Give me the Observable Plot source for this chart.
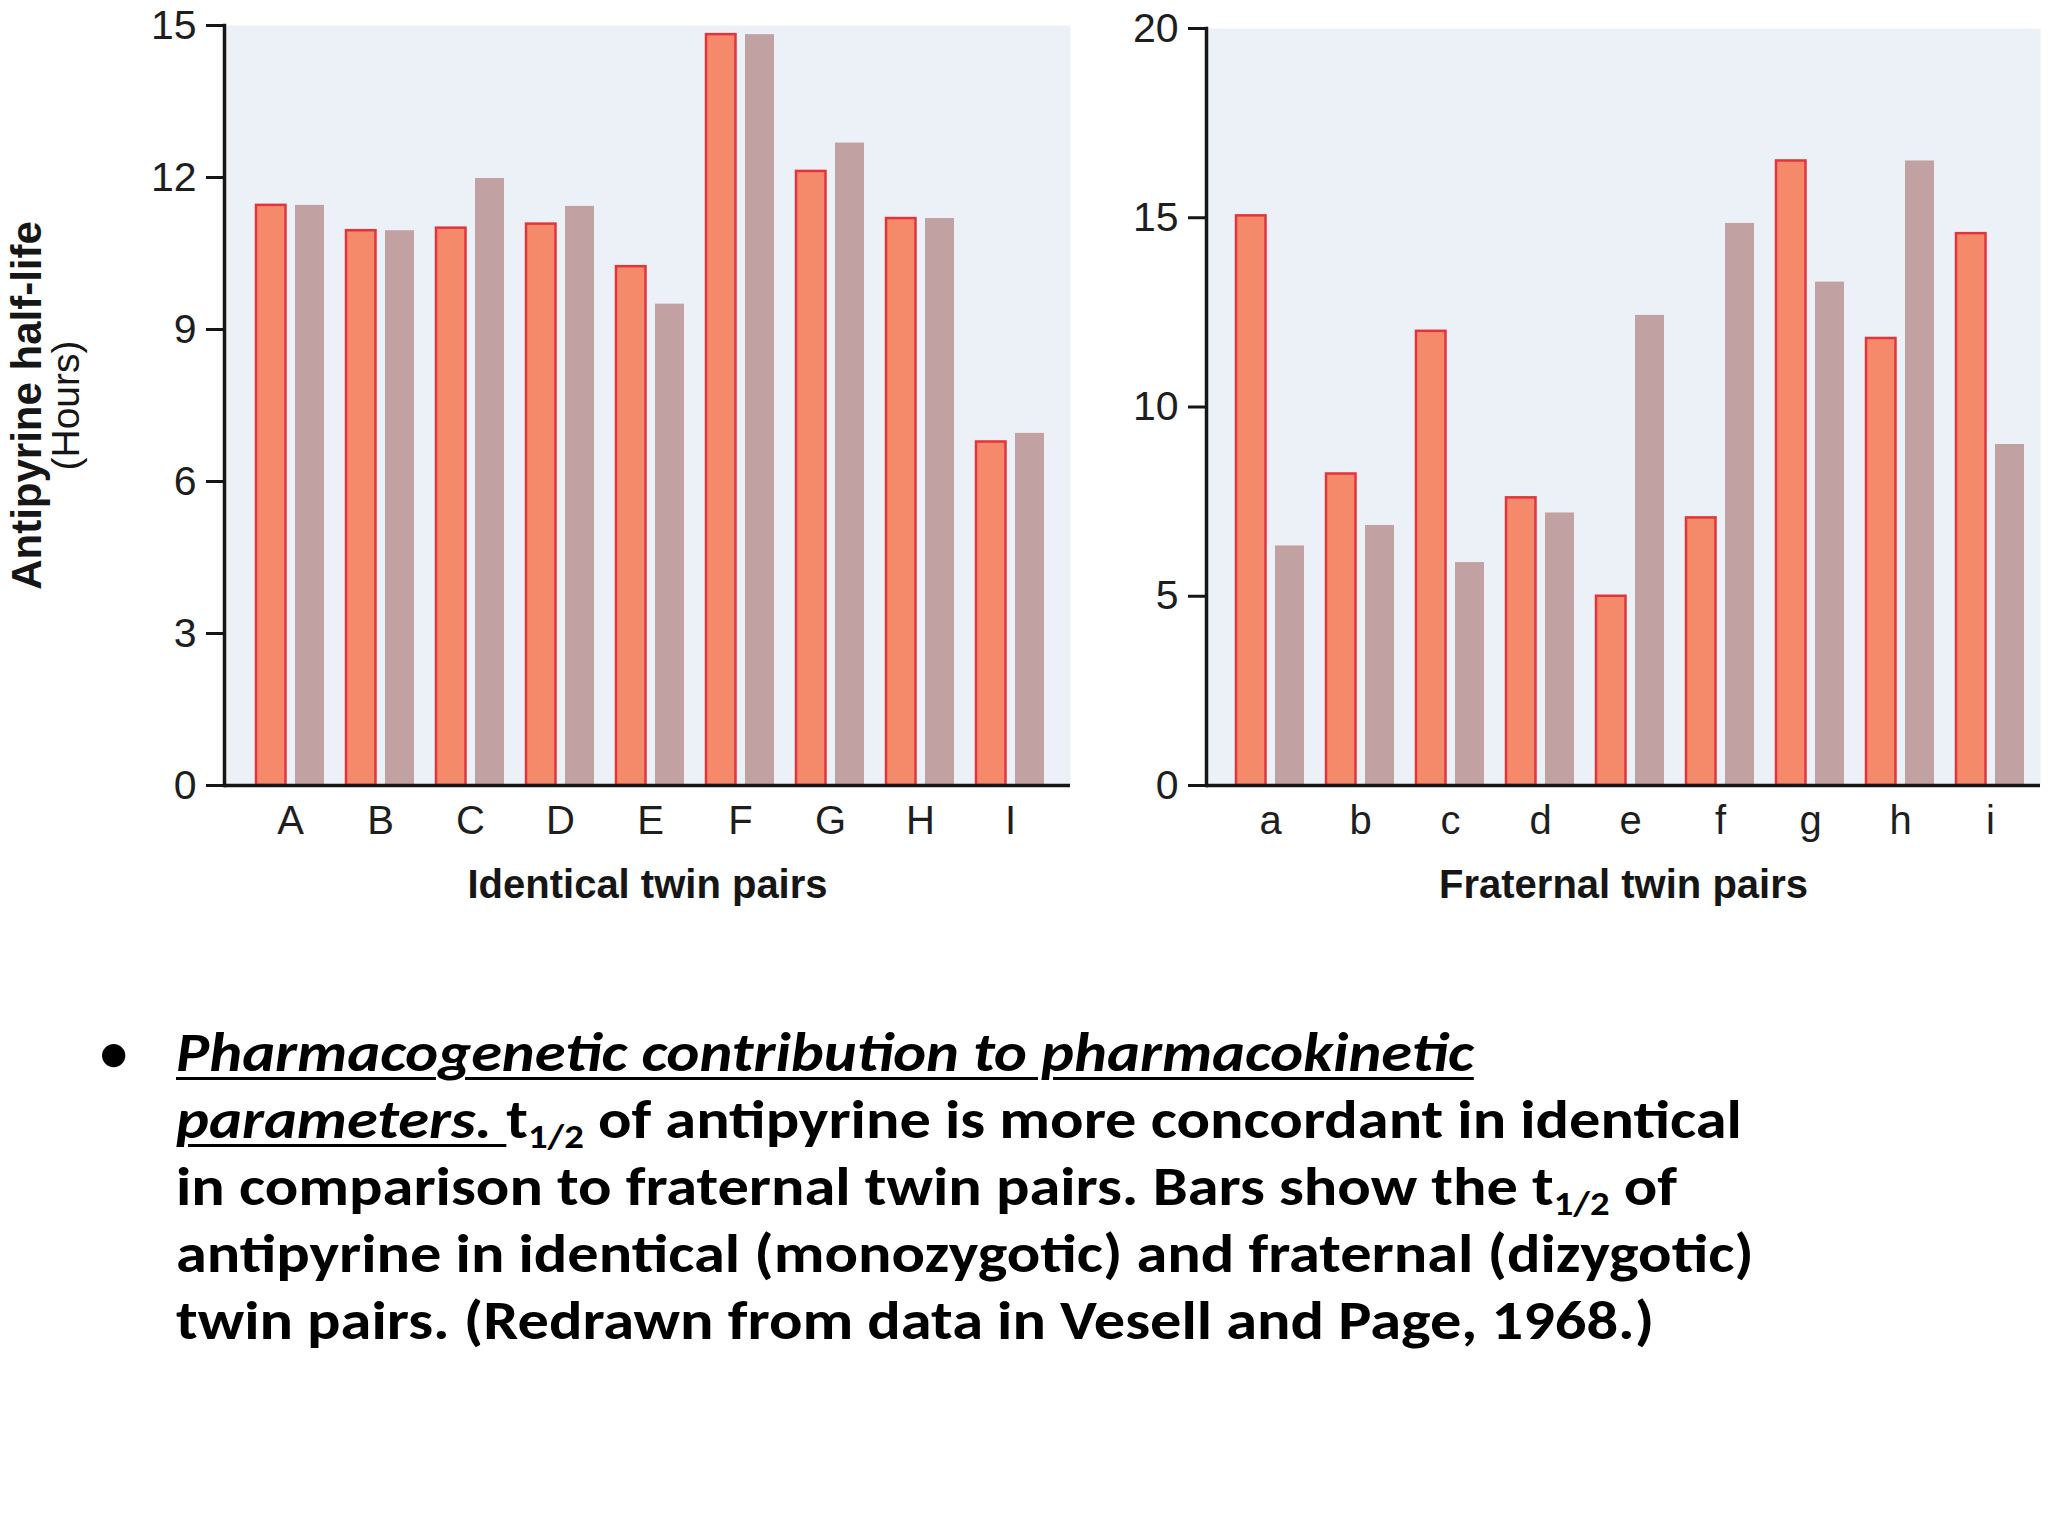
<!DOCTYPE html>
<html>
<head>
<meta charset="utf-8">
<script src="https://cdn.jsdelivr.net/npm/d3@7"></script>
<script src="https://cdn.jsdelivr.net/npm/@observablehq/plot@0.6"></script>
<style>
  html, body { margin: 0; padding: 0; background: #ffffff; }
  body { width: 2048px; height: 1536px; position: relative; overflow: hidden; font-family: "Liberation Sans", Arial, sans-serif; }
  #left { position: absolute; left: 0; top: 0; }
  #right { position: absolute; left: 1080px; top: 0; }
  #caption { position: absolute; left: 0; top: 1019px; font-family: Carlito, Lato, "Open Sans", sans-serif; font-weight: 700; font-size: 55px; line-height: 67px; color: #000; white-space: nowrap; }
  #caption .bullet { position: absolute; left: 100px; top: 0; }
  #caption .txt { position: absolute; left: 176px; top: 0; transform: scaleX(1.135); transform-origin: 0 0; }
  #caption .u { text-decoration: underline; text-decoration-thickness: 3px; text-underline-offset: 6px; }
  #caption sub { font-size: 0.62em; vertical-align: -0.28em; line-height: 0; }
</style>
</head>
<body>
<div id="left"></div>
<div id="right"></div>
<div id="caption">
  <span class="bullet">•</span>
  <div class="txt"><span class="u"><i>Pharmacogenetic contribution to pharmacokinetic</i></span><br><span class="u"><i>parameters. </i></span>t<sub>1/2</sub> of antipyrine is more concordant in identical<br>in comparison to fraternal twin pairs. Bars show the t<sub>1/2</sub> of<br>antipyrine in identical (monozygotic) and fraternal (dizygotic)<br>twin pairs. (Redrawn from data in Vesell and Page, 1968.)</div>
</div>
<script>
// ---- data (antipyrine half-life, hours) ----
const identicalPairs = ["A", "B", "C", "D", "E", "F", "G", "H", "I"];
const identicalTwin1 = [11.45, 10.95, 11.0, 11.08, 10.24, 14.82, 12.12, 11.19, 6.78];
const identicalTwin2 = [11.45, 10.95, 11.98, 11.43, 9.5, 14.82, 12.68, 11.19, 6.95];
const identicalTicks = [0, 3, 6, 9, 12, 15];

const fraternalPairs = ["a", "b", "c", "d", "e", "f", "g", "h", "i"];
const fraternalTwin1 = [15.05, 8.23, 12.0, 7.6, 5.0, 7.07, 16.5, 11.81, 14.58];
const fraternalTwin2 = [6.33, 6.87, 5.89, 7.2, 12.42, 14.85, 13.3, 16.5, 9.01];
const fraternalTicks = [0, 5, 10, 15, 20];

const yTitle = "Antipyrine half-life";
const yUnit = "(Hours)";
const identicalTitle = "Identical twin pairs";
const fraternalTitle = "Fraternal twin pairs";

const ORANGE = "#f58a6b";
const RED = "#e3343b";
const GREY = "#c2a1a2";
const BG = "#ecf1f8";
const INK = "#161616";

function twinChart(o) {
  const rows = o.pairs.map((p, i) => ({pair: p, t1: o.twin1[i], t2: o.twin2[i]}));
  const marks = [
    Plot.frame({fill: BG, stroke: null}),
    Plot.barY(rows, {x: "pair", y: "t1", fill: ORANGE, stroke: RED, strokeWidth: 2.5, insetRight: 38.5}),
    Plot.barY(rows, {x: "pair", y: "t2", fill: GREY, insetLeft: 39}),
    Plot.ruleY([0], {stroke: INK, strokeWidth: 3.5}),
    Plot.frame({anchor: "left", stroke: INK, strokeWidth: 3.5}),
    Plot.axisY({ticks: o.yTicks, tickSize: 18, tickPadding: 10, fontSize: 41, strokeWidth: 3, stroke: INK, fill: "#1e1e1e", label: null}),
    Plot.axisX({tickSize: 0, tickPadding: 20, fontSize: 40, fill: "#1e1e1e", label: null}),
    Plot.text([o.title], {frameAnchor: "bottom", dy: 112, fontSize: 40, fontWeight: "bold", fill: INK})
  ];
  if (o.withYTitle) {
    marks.push(Plot.text([yTitle], {frameAnchor: "left", textAnchor: "middle", rotate: -90, dx: -197, fontSize: 42, fontWeight: "bold", fill: INK}));
    marks.push(Plot.text([yUnit], {frameAnchor: "left", textAnchor: "middle", rotate: -90, dx: -158, fontSize: 39, fill: INK}));
  }
  return Plot.plot({
    width: o.width,
    height: 920,
    marginLeft: o.marginLeft,
    marginRight: o.marginRight,
    marginTop: o.marginTop,
    marginBottom: 135,
    style: {background: "transparent", fontFamily: "'Liberation Sans', Arial, sans-serif", overflow: "visible", maxWidth: "none"},
    x: {domain: o.pairs, paddingInner: 0.25, paddingOuter: o.paddingOuter, align: o.align},
    y: {domain: o.yDomain},
    marks
  });
}

document.getElementById("left").appendChild(twinChart({
  pairs: identicalPairs, twin1: identicalTwin1, twin2: identicalTwin2,
  yDomain: [0, 15], yTicks: identicalTicks, title: identicalTitle,
  width: 1080, marginLeft: 224, marginRight: 10, marginTop: 25,
  paddingOuter: 0.3, align: 0.55, withYTitle: true
}));

document.getElementById("right").appendChild(twinChart({
  pairs: fraternalPairs, twin1: fraternalTwin1, twin2: fraternalTwin2,
  yDomain: [0, 20], yTicks: fraternalTicks, title: fraternalTitle,
  width: 968, marginLeft: 126, marginRight: 8, marginTop: 28,
  paddingOuter: 0.245, align: 0.65, withYTitle: false
}));
</script>
</body>
</html>
